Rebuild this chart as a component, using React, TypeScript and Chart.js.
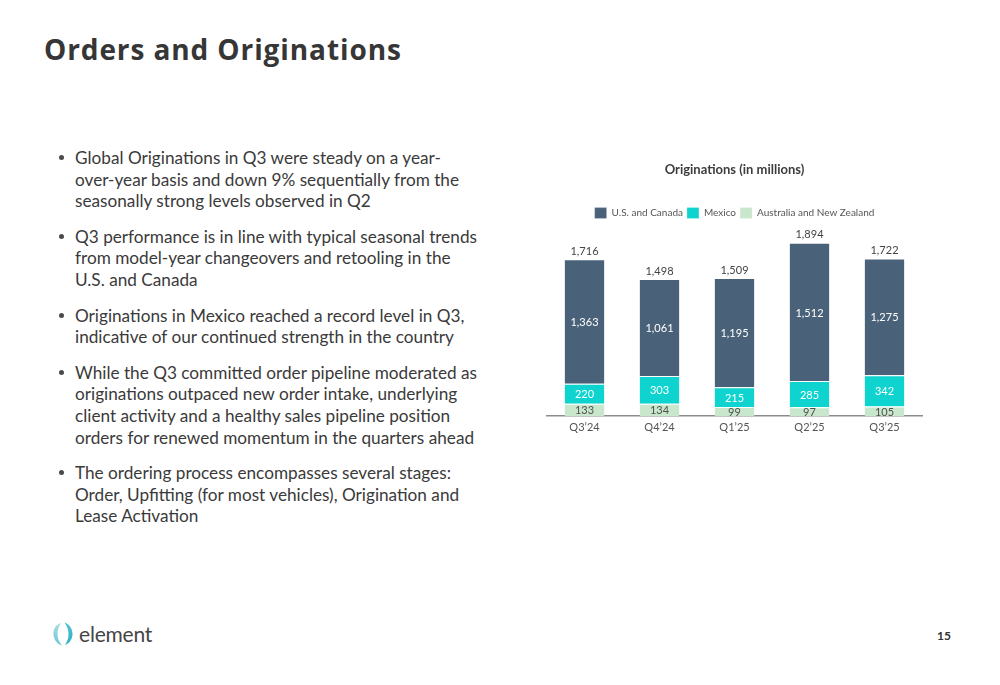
import React, { useEffect, useRef } from "react";
import { Chart, registerables } from "chart.js";

Chart.register(...registerables);

// Quarterly originations, in millions
const quarters = ["Q3\u201924", "Q4\u201924", "Q1\u201925", "Q2\u201925", "Q3\u201925"];
const usCanada = [1363, 1061, 1195, 1512, 1275];
const mexico = [220, 303, 215, 285, 342];
const ausNz = [133, 134, 99, 97, 105];
const totals = [1716, 1498, 1509, 1894, 1722];

const seriesNames = ["U.S. and Canada", "Mexico", "Australia and New Zealand"];

const bullets: string[][] = [
  [
    "Global Originations in Q3 were steady on a year-",
    "over-year basis and down 9% sequentially from the",
    "seasonally strong levels observed in Q2",
  ],
  [
    "Q3 performance is in line with typical seasonal trends",
    "from model-year changeovers and retooling in the",
    "U.S. and Canada",
  ],
  [
    "Originations in Mexico reached a record level in Q3,",
    "indicative of our continued strength in the country",
  ],
  [
    "While the Q3 committed order pipeline moderated as",
    "originations outpaced new order intake, underlying",
    "client activity and a healthy sales pipeline position",
    "orders for renewed momentum in the quarters ahead",
  ],
  [
    "The ordering process encompasses several stages:",
    "Order, Upfitting (for most vehicles), Origination and",
    "Lease Activation",
  ],
];

const FONT = "Lato, 'Noto Sans', sans-serif";
const fmt = (v: number) => v.toLocaleString("en-US");

// Writes segment values inside each bar and the stack total above it
const barLabels = {
  id: "barLabels",
  afterDatasetsDraw(chart: any) {
    const ctx = chart.ctx;
    ctx.save();
    ctx.font = `11px ${FONT}`;
    ctx.textAlign = "center";
    ctx.textBaseline = "middle";
    chart.data.datasets.forEach((ds: any, di: number) => {
      const meta = chart.getDatasetMeta(di);
      ctx.fillStyle = di === 0 ? "#505050" : "#ffffff";
      meta.data.forEach((bar: any, i: number) => {
        const y = (bar.y + bar.base) / 2;
        ctx.fillText(fmt(ds.data[i]), bar.x, y + 1);
      });
    });
    const topMeta = chart.getDatasetMeta(chart.data.datasets.length - 1);
    ctx.fillStyle = "#444444";
    topMeta.data.forEach((bar: any, i: number) => {
      ctx.fillText(fmt(totals[i]), bar.x, bar.y - 8);
    });
    ctx.restore();
  },
};

function OriginationsChart() {
  const ref = useRef<HTMLCanvasElement>(null);
  useEffect(() => {
    if (!ref.current) return;
    const chart = new Chart(ref.current, {
      type: "bar",
      data: {
        labels: quarters,
        datasets: [
          { label: seriesNames[2], data: ausNz, backgroundColor: "#c9e7cc" },
          { label: seriesNames[1], data: mexico, backgroundColor: "#0fd3cf" },
          { label: seriesNames[0], data: usCanada, backgroundColor: "#4a6279" },
        ].map((d) => ({
          ...d,
          borderColor: "#ffffff",
          borderWidth: { top: 1, bottom: 0, left: 0, right: 0 },
          borderSkipped: false,
          categoryPercentage: 1,
          barPercentage: 0.53,
        })),
      },
      options: {
        animation: false,
        responsive: false,
        maintainAspectRatio: false,
        layout: { padding: { left: 7, right: 7, top: 0, bottom: 4 } },
        plugins: {
          tooltip: { enabled: false },
          title: {
            display: true,
            text: "Originations (in millions)",
            color: "#3d3d3d",
            font: { family: FONT, size: 13, weight: "bold" },
            padding: { top: 12, bottom: 26 },
          },
          legend: {
            display: true,
            reverse: true,
            labels: {
              boxWidth: 12,
              boxHeight: 11,
              padding: 4,
              color: "#555555",
              font: { family: FONT, size: 10 },
            },
          },
        },
        scales: {
          x: {
            stacked: true,
            grid: { display: false, drawTicks: false },
            border: { display: true, color: "#8c8c8c", width: 1.5 },
            ticks: {
              color: "#555555",
              font: { family: FONT, size: 11 },
              padding: 5,
            },
            afterFit(scale: any) {
              scale.height = 20;
            },
          },
          y: {
            stacked: true,
            display: false,
            min: 0,
            max: 2050,
          },
        },
      },
      plugins: [barLabels],
    } as any);
    return () => chart.destroy();
  }, []);
  return (
    <canvas
      ref={ref}
      width={389}
      height={290}
      style={{ position: "absolute", left: 540, top: 150, width: 389, height: 290 }}
    />
  );
}

function Logo() {
  return (
    <div style={{ position: "absolute", left: 52, top: 621, display: "flex", alignItems: "center" }}>
      <svg width="22" height="26" viewBox="0 0 22 26">
        <defs>
          <linearGradient id="ringL" x1="0" y1="0" x2="0" y2="1">
            <stop offset="0" stopColor="#a7dde4" />
            <stop offset="1" stopColor="#6cc7d3" />
          </linearGradient>
          <linearGradient id="ringR" x1="0" y1="0" x2="0" y2="1">
            <stop offset="0" stopColor="#58c2d0" />
            <stop offset="1" stopColor="#2fb0c4" />
          </linearGradient>
        </defs>
        <path d="M9 2 C 3 4, 1 9, 1.5 14 C 2 19, 5 23, 10 24.5 C 7 21, 5.5 17.5, 5.5 13 C 5.5 8.5, 7 5, 9 2 Z" fill="url(#ringL)" />
        <path d="M12.5 1.5 C 17.5 3, 20.5 8, 20.5 13 C 20.5 18, 17.5 22.5, 13 24 C 15.5 20.5, 16.5 17, 16.5 13 C 16.5 9, 15 5, 12.5 1.5 Z" fill="url(#ringR)" />
      </svg>
      <span
        style={{
          marginLeft: 5,
          fontFamily: FONT,
          fontSize: 21,
          color: "#454545",
          lineHeight: "26px",
          letterSpacing: -0.2,
        }}
      >
        element
      </span>
    </div>
  );
}

export default function App() {
  return (
    <div
      style={{
        position: "fixed",
        left: 0,
        top: 0,
        width: 1000,
        height: 685,
        background: "#ffffff",
        overflow: "hidden",
        fontFamily: FONT,
      }}
    >
      <div
        style={{
          position: "absolute",
          left: 44,
          top: 31.5,
          fontFamily: "'Open Sans', sans-serif",
          fontSize: 28,
          fontWeight: 700,
          letterSpacing: 0.9,
          color: "#363636",
          lineHeight: "34px",
          whiteSpace: "nowrap",
        }}
      >
        Orders and Originations
      </div>

      <div style={{ position: "absolute", left: 75, top: 147, color: "#3a3a3a", fontSize: 17.2, lineHeight: "21.6px" }}>
        {bullets.map((lines, bi) => (
          <div key={bi} style={{ position: "relative", marginBottom: 14, whiteSpace: "nowrap" }}>
            <span
              style={{
                position: "absolute",
                left: -16,
                top: 8,
                width: 5,
                height: 5,
                borderRadius: "50%",
                background: "#4a4a4a",
              }}
            />
            {lines.map((l, li) => (
              <div key={li}>{l}</div>
            ))}
          </div>
        ))}
      </div>

      <OriginationsChart />

      <Logo />

      <div
        style={{
          position: "absolute",
          left: 937,
          top: 628,
          fontSize: 12,
          fontWeight: 700,
          color: "#333333",
        }}
      >
        15
      </div>
    </div>
  );
}
